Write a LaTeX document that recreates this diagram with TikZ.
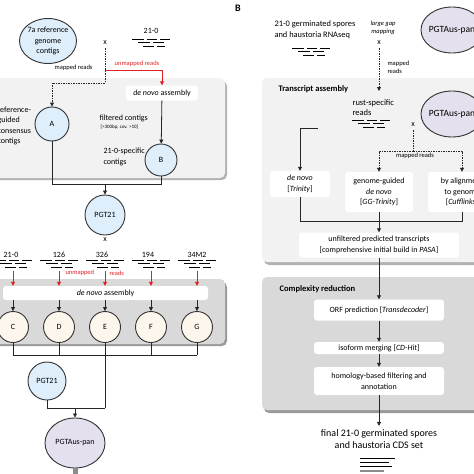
\documentclass[tikz,border=0pt]{standalone}
\usepackage{fontspec}
\setmainfont{Carlito}
\usepackage{xcolor}
\usepackage{tikz}
\usetikzlibrary{positioning,arrows.meta,shapes.geometric}
\definecolor{circblue}{RGB}{222,238,250}
\definecolor{circcream}{RGB}{253,246,236}
\definecolor{circlila}{RGB}{229,224,238}
\definecolor{panlight}{RGB}{242,242,242}
\definecolor{pandark}{RGB}{217,217,217}
\definecolor{readred}{RGB}{222,32,38}
\definecolor{edgegray}{RGB}{50,50,50}
\tikzset{
  reads/.pic={
    \draw[line width=0.9pt] (-19,0)--(-7,0) (-4,0)--(6,0) (9,0)--(19,0)
      (-13,3.5)--(-1,3.5) (2,3.5)--(13,3.5) (-8,7)--(3,7) (6,7)--(14,7);
  }
}

\begin{document}
\begin{tikzpicture}[x=1pt,y=-1pt,font=\fontsize{8}{10.5}\selectfont,
  circ/.style={circle,draw=edgegray,line width=0.9pt,inner sep=0pt},
  oval/.style={ellipse,draw=edgegray,line width=0.9pt,inner sep=0pt},
  wbox/.style={fill=white,rounded corners=3pt,align=center,inner sep=1pt},
  conn/.style={line width=0.8pt,draw=black!85},
  arr/.style={conn,-{Triangle[length=4pt,width=4pt]}},
  redarr/.style={line width=0.8pt,draw=readred,-{Triangle[length=4pt,width=4pt]}},
  mapdash/.style={dash pattern=on 1.5pt off 1pt},
  smalltxt/.style={font=\fontsize{6.5}{7.8}\selectfont},
  head/.style={font=\fontsize{8.5}{10}\selectfont\bfseries}]
  \useasboundingbox (0,0) rectangle (474,474);
  \clip (0,0) rectangle (474,474);
  % panels with shadow
  \fill[black!30,rounded corners=5pt] (-8,81) rectangle (227,180);
  \fill[panlight,rounded corners=5pt] (-10,78) rectangle (225,178);
  \fill[black!40,rounded corners=5pt] (-8,282) rectangle (227,346);
  \fill[pandark,rounded corners=5pt] (-10,279) rectangle (225,344);
  \fill[black!30,rounded corners=5pt] (264,81) rectangle (480,265);
  \fill[panlight,rounded corners=5pt] (262,78) rectangle (480,262);
  \fill[black!40,rounded corners=5pt] (264,280) rectangle (480,413);
  \fill[pandark,rounded corners=5pt] (262,277) rectangle (480,410);

  % ---- left: PGT21 from 7a reference
  \node[oval,fill=circblue,minimum width=57,minimum height=45] (ref7a) at (48,41) {};
  \node[align=center] (ref7atxt) at (ref7a) {7a reference\\genome\\contigs};
  \node (xsgn1) at (105,43) {x};
  \node (strainA) at (151,31) {21-0};
  \pic at (151,39) {reads};
  \node[smalltxt,anchor=east] (mapA) at (96,68) {mapped reads};
  \node[smalltxt,text=readred] (unmapA) at (137,64) {unmapped reads};
  \node[wbox,minimum width=72,minimum height=15] (dnA) at (162,93) {\textit{de novo} assembly};
  \node[anchor=west] (filt) at (96,118) {filtered contigs};
  \node[anchor=west,font=\fontsize{5}{6}\selectfont] (filtcrit) at (97,127) {[>300bp, cov. >10]};
  \node[circ,fill=circblue,minimum size=34] (nA) at (52,124) {A};
  \node[align=left,anchor=west] (refg) at (-6,126) {reference-\\guided\\consensus\\contigs};
  \node[align=left,anchor=west] (spec) at (100,157) {21-0-specific\\contigs};
  \node[circ,fill=circblue,minimum size=32] (nB) at (161,160) {B};
  \node[circ,fill=circblue,minimum size=40] (pgt21) at (105,215) {PGT21};
  \coordinate (bendA) at (105,83);
  \coordinate (splitA) at (105,70);
  \coordinate (mrgA) at (105,184);
  \draw[arr,mapdash] (xsgn1.south) -- (bendA) -| (nA.north);
  \draw[redarr] (splitA) -| (dnA.north);
  \draw[arr] (dnA) -- (nB);
  \draw[conn] (nA.south) |- (mrgA);
  \draw[conn] (nB.south) |- (mrgA);
  \draw[arr] (mrgA) -- (pgt21.north);

  % ---- left: pan-genome from five isolates
  \node (xsgn2) at (105,240) {x};
  \node[wbox,minimum width=205,minimum height=14] (dnB) at (105.5,293) {\textit{de novo} assembly};
  \node[smalltxt,text=readred,anchor=west] (unmB) at (62,273) {unmapped};
  \node[smalltxt,text=readred,anchor=west] (unrB) at (106,273) {reads};
  \foreach \i/\lab/\lx/\nm in {0/21-0/11/C,1/126/59/D,2/326/102/E,3/194/148/F,4/34M2/197/G} {
    \pgfmathsetmacro\cx{13+46*\i}
    \node (strain\nm) at (\lx,255) {\lab};
    \pic at (\cx,260) {reads};
    \coordinate (red\nm) at (\cx,271);
    \draw[redarr] (red\nm) -- (red\nm |- dnB.north);
    \node[circ,fill=circcream,minimum size=31] (n\nm) at (\cx,327) {\nm};
    \draw[arr] (n\nm |- dnB.south) -- (n\nm.north);
  }
  \coordinate (mrgB) at (105,355);
  \coordinate (mrgC) at (105,408);
  \coordinate (mrgD) at (75,408);
  \foreach \nm in {C,D,F,G} {
    \draw[conn] (n\nm.south) -- (n\nm.south |- mrgB);
  }
  \draw[conn] (nC.south |- mrgB) -- (nG.south |- mrgB);
  \draw[conn] (nE.south) -- (mrgC);
  \node[circ,fill=circblue,minimum size=38] (pgt21b) at (47,381) {PGT21};
  \draw[conn] (pgt21b.south) |- (mrgC);
  \node[oval,fill=circlila,minimum width=60,minimum height=50] (panL) at (75,443) {PGTAus-pan};
  \draw[arr] (mrgD) -- (panL.north);
  \draw[black!45,line width=5pt] (panL.south) -- ++(0,8);

  % ---- right: transcript assembly
  \node[font=\fontsize{10}{12}\selectfont\bfseries] (lblB) at (238,8) {B};
  \node[align=left,anchor=west,font=\fontsize{8.4}{10.5}\selectfont] (rnaseq) at (271,30) {21-0 germinated spores\\and haustoria RNAseq};
  \pic at (311,48) {reads};
  \node[smalltxt,align=center,font=\fontsize{6.5}{8}\selectfont\itshape] (lgm) at (383,28) {large gap\\mapping};
  \node (xsgn3) at (379,43) {x};
  \coordinate (tipB) at (379,91);
  \draw[arr,mapdash] (xsgn3.south) -- (tipB);
  \node[smalltxt,align=left,anchor=west] (mapB) at (384,67) {mapped\\reads};
  \node[oval,fill=circlila,minimum width=62,minimum height=46] (panR1) at (452,30) {};
  \node[font=\fontsize{9.5}{11}\selectfont] (panR1txt) at (panR1) {PGTAus-pan};
  \node[head,anchor=west] (tahead) at (275,89) {Transcript assembly};
  \node[align=left,anchor=west,font=\fontsize{8.5}{10}\selectfont] (rust) at (349,108) {rust-specific\\reads};
  \pic at (371,120) {reads};
  \node (xsgn4) at (413,125) {x};
  \node[oval,fill=circlila,minimum width=62,minimum height=46] (panR2) at (452,114) {};
  \node[font=\fontsize{9.5}{11}\selectfont] (panR2txt) at (panR2) {PGTAus-pan};
  \node[wbox,minimum width=60,minimum height=26] (dnT) at (300,184) {\textit{de novo}\\{[}\textit{Trinity}]};
  \node[wbox,minimum width=68,minimum height=40] (ggT) at (379,192) {genome-guided\\\textit{de novo}\\{[}\textit{GG-Trinity}]};
  \node[wbox,minimum width=68,minimum height=40] (cuffT) at (462,192) {by alignment\\to genome\\{[}\textit{Cufflinks}]};
  \coordinate (splitB) at (413,151);
  \coordinate (rustL) at (318,128);
  \draw[conn,mapdash] (xsgn4.south) -- (splitB);
  \draw[arr,mapdash] (splitB) -| (ggT.north);
  \draw[arr,mapdash] (splitB) -| (cuffT.north);
  \node[smalltxt] (mapC) at (415,156) {mapped reads};
  \draw[arr] (rustL) -| (dnT.north);
  \node[wbox,minimum width=160,minimum height=25] (unfT) at (379,245) {unfiltered predicted transcripts\\{[}comprehensive initial build in \textit{PASA}]};
  \coordinate (mrgT) at (379,221);
  \draw[conn] (dnT.south) |- (mrgT);
  \draw[conn] (cuffT.south) |- (mrgT);
  \draw[arr] (ggT.south) -- (unfT.north);

  % ---- right: complexity reduction
  \node[head,anchor=west] (crhead) at (276,289) {Complexity reduction};
  \node[wbox,minimum width=130,minimum height=21] (orf) at (379,310) {ORF prediction {[}\textit{Transdecoder}]};
  \node[wbox,minimum width=130,minimum height=12] (iso) at (379,348) {isoform merging {[}\textit{CD-Hit}]};
  \node[wbox,minimum width=130,minimum height=28] (hom) at (379,381) {homology-based filtering and\\annotation};
  \node[align=center,font=\fontsize{10}{12}\selectfont] (final) at (379,439) {final 21-0 germinated spores\\and haustoria CDS set};
  \draw[arr] (unfT.south) -- (orf.north);
  \draw[arr] (orf) -- (iso);
  \draw[arr] (iso) -- (hom);
  \draw[arr] (hom.south) -- (final.north);
  \draw[line width=0.9pt] (360,458)--(395,458) (360,462)--(389,462) (360,466)--(392,466);
  \draw[black!45,line width=2.5pt] (360,471)--(384,471);
\end{tikzpicture}
\end{document}
